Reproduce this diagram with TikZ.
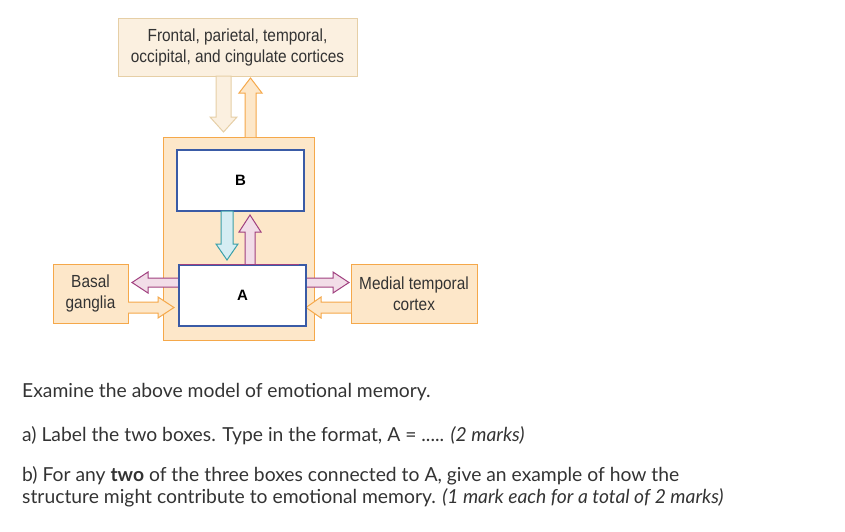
\documentclass[tikz,border=0pt]{standalone}
\usepackage{fontspec}
\setmainfont{Lato}
\newfontfamily\narrow[FakeStretch=0.88]{Liberation Sans}
\newfontfamily\lab{Liberation Sans}
\definecolor{boxor}{HTML}{F5A84A}
\definecolor{boxfill}{HTML}{FDE7C9}
\definecolor{topfill}{HTML}{FBF0E0}
\definecolor{topline}{HTML}{E6CFA6}
\definecolor{blueb}{HTML}{3A5BA6}
\definecolor{teal}{HTML}{3BA0A8}
\definecolor{tealf}{HTML}{D5EDF3}
\definecolor{mag}{HTML}{A0407F}
\definecolor{magf}{HTML}{F2DDE8}
\definecolor{txt}{HTML}{333333}
\begin{document}
\begin{tikzpicture}[x=1pt,y=-1pt,line join=miter,
  orbox/.style={draw=boxor,fill=boxfill,line width=1pt},
  inbox/.style={draw=blueb,fill=white,line width=1.2pt},
  begearr/.style={draw=topline,fill=topfill,line width=1pt},
  orarr/.style={draw=boxor,fill=boxfill,line width=1pt},
  magarr/.style={draw=mag,fill=magf,line width=1pt},
  tealarr/.style={draw=teal,fill=tealf,line width=1pt},
  dlab/.style={font=\narrow\fontsize{17.5}{21}\selectfont,text=txt,align=center}]
\useasboundingbox (0,0) rectangle (845,531);
% top box
\node[draw=topline,fill=topfill,line width=1pt,minimum width=239pt,minimum height=58pt,dlab,inner sep=0pt] (top) at (237.5,47) {Frontal, parietal, temporal,\\occipital, and cingulate cortices};
% big box
\node[orbox,minimum width=151pt,minimum height=203pt] (big) at (238.5,238.5) {};
% arrows top <-> big
\draw[begearr] (216,76) -- (231,76) -- (231,117) -- (237,117) -- (223.5,132) -- (210,117) -- (216,117) -- cycle;
\draw[orarr] (245,137) -- (245,93) -- (239,93) -- (250.5,78) -- (262,93) -- (256,93) -- (256,137);
% side boxes
\node[orbox,minimum width=75pt,minimum height=59pt,dlab,inner sep=0pt] (bg) at (90.5,293.5) {Basal\\ganglia};
\node[orbox,minimum width=126pt,minimum height=59pt,dlab,inner sep=0pt] (mt) at (414,293.5) {Medial temporal\\cortex};
% B and A
\node[inbox,minimum width=127pt,minimum height=61pt,font=\lab\bfseries\fontsize{15}{17}\selectfont] (B) at (240.5,180.5) {B};
\draw[tealarr] (221,211) -- (233,211) -- (233,244) -- (238,244) -- (227,260) -- (216,244) -- (221,244) -- cycle;
\draw[magarr] (245,264) -- (245,232) -- (239,232) -- (250,215) -- (261,232) -- (255,232) -- (255,264);
% side arrows
\draw[magarr] (180,278) -- (148,278) -- (148,272) -- (132,282.5) -- (148,293) -- (148,287) -- (180,287);
\draw[magarr] (306,278) -- (333,278) -- (333,272) -- (349,282.5) -- (333,293) -- (333,287) -- (306,287);
\draw[orarr] (128,302) -- (158,302) -- (158,297) -- (174,307.5) -- (158,318) -- (158,313) -- (128,313);
\draw[orarr] (351,302) -- (321,302) -- (321,297) -- (306,307.5) -- (321,318) -- (321,313) -- (351,313);
\node[inbox,minimum width=127pt,minimum height=61pt,font=\lab\bfseries\fontsize{15}{17}\selectfont] (A) at (242.5,295.5) {A};
\draw[mag,line width=1.5pt] (180,264.5) -- (299,264.5);
% text
\begin{scope}[every node/.style={anchor=base west,inner sep=0pt,text=txt,font=\fontsize{19.3}{23}\selectfont}]
\node (t1) at (22,397) {Examine the above model of emotional memory.};
\node (t2) at (22,441) {a) Label the two boxes. Type in the format, A = ..... \textit{(2 marks)}};
\node (t3) at (22,481) {b) For any \textbf{two} of the three boxes connected to A, give an example of how the};
\node (t4) at (22,503) {structure might contribute to emotional memory. \textit{(1 mark each for a total of 2 marks)}};
\end{scope}
\end{tikzpicture}
\end{document}
